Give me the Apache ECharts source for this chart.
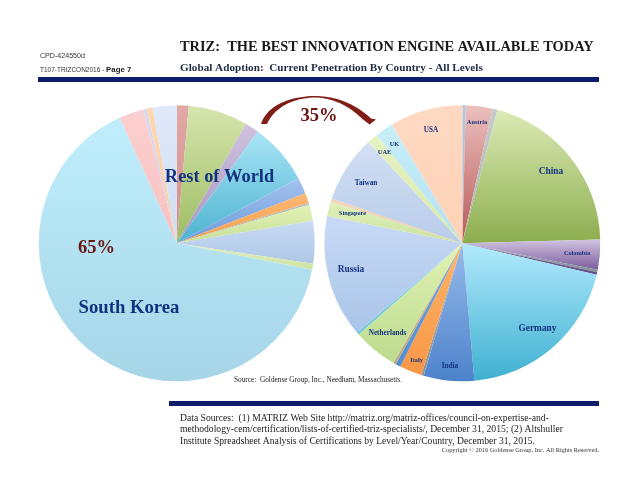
<!DOCTYPE html>
<html>
<head>
<meta charset="utf-8">
<script src="https://cdn.jsdelivr.net/npm/echarts@6/dist/echarts.min.js"></script>
<style>
html, body { margin: 0; padding: 0; background: #fff; }
#main { width: 638px; height: 493px; }
</style>
</head>
<body>
<div id="main"></div>
<script>
// left pie, percent of all certifications. Only South Korea is named in the picture
const worldNames = ['w1', 'w2', 'w3', 'w4', 'w5', 'w6', 'w7', 'w8', 'w9', 'w10', 'South Korea', 'w12', 'w13', 'w14', 'w15'];
const worldValues = [1.4, 7.0, 1.6, 7.2, 1.9, 1.2, 0.2, 1.9, 5.0, 0.7, 65.2, 2.9, 0.4, 0.7, 2.8];
const worldTop = ['#e2a9a7', '#d6e6ae', '#cfc2df', '#a9e4f6', '#a5c3ee', '#fcb873', '#b5c0c8', '#e2f1b4', '#c9dbf5', '#dff0bc', '#c0eefc', '#fcd0d0', '#dcd8ee', '#fdd8b4', '#dfe9fa'];
const worldBottom = ['#cf8e8c', '#9dbb62', '#a896c2', '#4cb3d0', '#6a9ada', '#f79f4c', '#a0acb4', '#c8e09a', '#aec6e6', '#cfe3a4', '#a6d5e8', '#f8c0c0', '#d0cce4', '#fbcda2', '#cfdcf2'];

// right pie, percent of the rest of world. Slivers carry no label in the picture
const restNames = ['r1', 'Austria', 'r3', 'China', 'Colombia', 'r6', 'r7', 'Germany', 'India', 'r10', 'Italy', 'r12', 'r13', 'Netherlands', 'r15', 'Russia', 'Singapore', 'r18', 'Taiwan', 'UAE', 'UK', 'USA'];
const restValues = [0.4, 3.1, 0.6, 20.4, 3.5, 0.3, 0.3, 19.9, 5.9, 0.3, 2.6, 0.6, 0.3, 5.2, 0.3, 14.3, 1.7, 0.4, 7.8, 1.3, 2.1, 8.5];
const restTop = ['#b4c6e0', '#ecc0be', '#c4cccc', '#dcebb6', '#d2c4e2', '#98a8ae', '#7a60a0', '#b2eafd', '#98bbec', '#a8aeb6', '#ffb468', '#6ea6dc', '#d4bc9c', '#e2f2b4', '#8cd8e6', '#c8daf6', '#dff0bc', '#f4d6ba', '#d2dff4', '#e6f2c4', '#c8eef9', '#fed9c2'];
const restBottom = ['#a4b6d2', '#b75856', '#aab2b2', '#8cad4e', '#7b5c9b', '#84949a', '#654c8a', '#3fb0d0', '#4c82ca', '#8e949c', '#f79646', '#558ed0', '#bea684', '#bcdb8e', '#74c8da', '#a9c4e8', '#cde2a0', '#eac8a8', '#b8cce9', '#d8e8a8', '#b4e2f0', '#fed2b6'];

const serif = '"Liberation Serif", "DejaVu Serif", serif';
const sans = '"Liberation Sans", Arial, sans-serif';
const navy = '#14337f';

// label spots on the right pie: [x, y, rich style]
const restLabelSpots = {
    Austria: [477, 122.7, 'xs'], China: [551, 172, 'lg'], Colombia: [577, 253, 'xs'],
    Germany: [537.5, 328.7, 'lg'], India: [450, 366, 'md'], Italy: [416.5, 360, 'xs'],
    Netherlands: [387.5, 333, 'md'], Russia: [351, 270, 'lg'], Singapore: [352.5, 213, 'xs'],
    Taiwan: [366, 182.7, 'md'], UAE: [384.5, 152.7, 'xs'], UK: [394.5, 144, 'xs'], USA: [431, 129.7, 'md']
};

function fills(names, values, top, bottom) {
    return names.map(function (name, i) {
        return {
            name: name,
            value: values[i],
            itemStyle: {
                color: new echarts.graphic.LinearGradient(0, 0, 0, 1, [
                    {offset: 0, color: top[i]},
                    {offset: 1, color: bottom[i]}
                ])
            }
        };
    });
}

function text(x, y, str, size, color, family, weight, align) {
    return {
        type: 'text', x: x, y: y, z: 100, silent: true,
        style: {
            text: str, fontSize: size, fill: color, fontFamily: family,
            fontWeight: weight || 'normal', textAlign: align || 'left', textVerticalAlign: 'middle'
        }
    };
}

// flatten a cubic curve to points for the arrow outline
function curve(a, b, c, d) {
    const pts = [];
    for (let i = 0; i <= 24; i++) {
        const t = i / 24, u = 1 - t;
        pts.push([
            u * u * u * a[0] + 3 * u * u * t * b[0] + 3 * u * t * t * c[0] + t * t * t * d[0],
            u * u * u * a[1] + 3 * u * u * t * b[1] + 3 * u * t * t * c[1] + t * t * t * d[1]
        ]);
    }
    return pts;
}

const arrowPoints = [].concat(
    curve([261, 124], [266, 108], [285, 96.5], [315, 96]),
    curve([315, 96], [337, 96], [357, 105], [371, 118.5]),
    [[376, 119.5], [369.5, 124.5], [363, 119.5]],
    curve([363, 119.5], [350, 107], [335, 98], [315, 97.5]),
    curve([315, 97.5], [292, 98], [274, 108], [267, 124])
);

const myChart = echarts.init(document.getElementById('main'));

const option = {
    animation: false,
    backgroundColor: '#fff',
    series: [
        {
            type: 'pie',
            center: [176.7, 243.3],
            radius: [0, 138],
            startAngle: 90,
            silent: true,
            label: {show: false},
            labelLine: {show: false},
            data: fills(worldNames, worldValues, worldTop, worldBottom)
        },
        {
            type: 'pie',
            center: [462.3, 243.3],
            radius: [0, 138],
            startAngle: 90,
            silent: true,
            avoidLabelOverlap: false,
            labelLine: {show: false},
            label: {
                show: true,
                position: 'inside',
                formatter: function (p) {
                    const spot = restLabelSpots[p.name];
                    return spot ? '{' + spot[2] + '|' + p.name + '}' : '';
                },
                rich: {
                    xs: {fontSize: 6.3, fontFamily: serif, fontWeight: 'bold', color: navy},
                    md: {fontSize: 7.2, fontFamily: serif, fontWeight: 'bold', color: navy},
                    lg: {fontSize: 9.4, fontFamily: serif, fontWeight: 'bold', color: navy}
                }
            },
            labelLayout: function (p) {
                const spot = restLabelSpots[restNames[p.dataIndex]];
                return spot ? {x: spot[0], y: spot[1], align: 'center', verticalAlign: 'middle'} : {};
            },
            data: fills(restNames, restValues, restTop, restBottom)
        }
    ],
    graphic: [
        // header and footer rules
        {type: 'rect', shape: {x: 38, y: 77, width: 561, height: 5}, style: {fill: '#0d1c6b'}, silent: true},
        {type: 'rect', shape: {x: 169, y: 401, width: 430, height: 5}, style: {fill: '#0d1c6b'}, silent: true},
        // arrow over the gap
        {type: 'polygon', silent: true, shape: {points: arrowPoints}, style: {fill: '#7f1d16'}},
        text(180, 47.5, 'TRIZ:  THE BEST INNOVATION ENGINE AVAILABLE TODAY', 14.4, '#1a1a1a', serif, 'bold'),
        text(180, 68.5, 'Global Adoption:  Current Penetration By Country - All Levels', 11.2, '#1f2a44', serif, 'bold'),
        text(40, 56, 'CPD-424550d', 7.1, '#333', sans),
        {
            type: 'text', x: 40, y: 70, z: 100, silent: true,
            style: {
                text: '{a|T107-TRIZCON2016 - }{b|Page 7}',
                textVerticalAlign: 'middle',
                rich: {
                    a: {fontSize: 6.5, fill: '#333', fontFamily: sans},
                    b: {fontSize: 7.8, fill: '#222', fontFamily: sans, fontWeight: 'bold'}
                }
            }
        },
        text(219.5, 177, 'Rest of World', 18.4, navy, serif, 'bold', 'center'),
        text(96.5, 248, '65%', 18.5, '#6b1512', serif, 'bold', 'center'),
        text(129, 308, 'South Korea', 18.7, navy, serif, 'bold', 'center'),
        text(319, 116.7, '35%', 18.5, '#6b1512', serif, 'bold', 'center'),
        text(234, 380.5, 'Source:  Goldense Group, Inc., Needham, Massachusetts.', 7.3, '#222', serif),
        text(180, 418, 'Data Sources:  (1) MATRIZ Web Site http://matriz.org/matriz-offices/council-on-expertise-and-', 9.65, '#222', serif),
        text(180, 429.5, 'methodology-cem/certification/lists-of-certified-triz-specialists/, December 31, 2015; (2) Altshuller', 9.65, '#222', serif),
        text(180, 441, 'Institute Spreadsheet Analysis of Certifications by Level/Year/Country, December 31, 2015.', 9.65, '#222', serif),
        text(599, 450, 'Copyright © 2016 Goldense Group, Inc. All Rights Reserved.', 6.35, '#333', serif, 'normal', 'right')
    ]
};

myChart.setOption(option);
</script>
</body>
</html>
